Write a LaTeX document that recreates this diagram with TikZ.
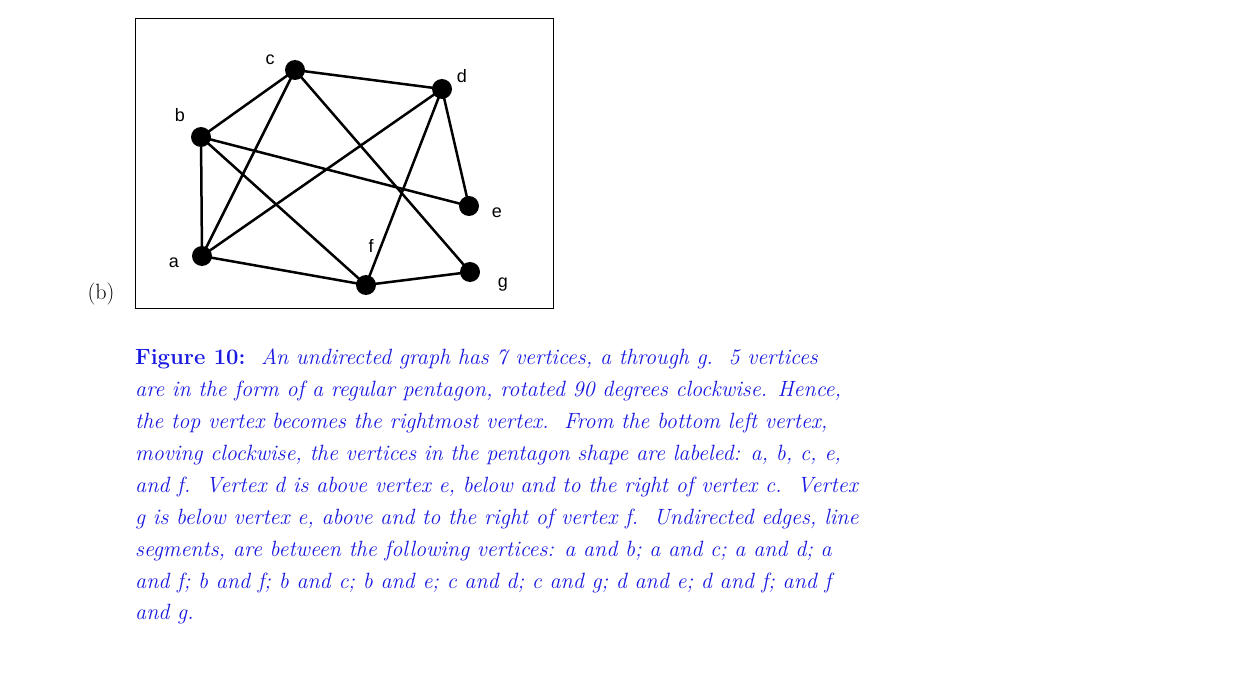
\documentclass[tikz,border=0pt]{standalone}
\usepackage{fontspec}
\newfontfamily\lsans{Liberation Sans}
\definecolor{capblue}{RGB}{25,25,225}
\begin{document}
\begin{tikzpicture}[x=1pt,y=-1pt,
  vtx/.style={circle,fill=black,inner sep=0pt,minimum size=20pt},
  lbl/.style={font=\lsans\fontsize{18}{20}\selectfont},
  edge/.style={line width=2.5pt},
  capline/.style={anchor=base west,inner sep=0pt,text=capblue,font=\fontsize{22.1}{24}\selectfont\itshape}]
\useasboundingbox (0,0) rectangle (1235,674);
\draw[line width=0.8pt] (135,18) rectangle (553,308);
\node (a) [vtx] at (202,256) {};
\node (b) [vtx] at (201,137) {};
\node (c) [vtx] at (295,70) {};
\node (d) [vtx] at (442,89) {};
\node (e) [vtx] at (469,206) {};
\node (f) [vtx] at (366,285) {};
\node (g) [vtx] at (470,272) {};
\foreach \u/\v in {a/b,a/c,a/d,a/f,b/f,b/c,b/e,c/d,c/g,d/e,d/f,f/g}
  \draw[edge] (\u.center) -- (\v.center);
\node[lbl] (la) at (174,263) {a};
\node[lbl] (lb) at (180,115) {b};
\node[lbl] (lc) at (270,60) {c};
\node[lbl] (ld) at (462,76) {d};
\node[lbl] (le) at (497,213) {e};
\node[lbl] (lf) at (371,246) {f};
\node[lbl] (lg) at (503,285) {g};
\node[font=\fontsize{22.1}{24}\selectfont] (lab) at (101,294) {(b)};
\node[capline] (l1) at (135,364) {{\upshape\bfseries Figure 10:}\ \ An undirected graph has 7 vertices, a through g.\ \ 5 vertices};
\node[capline] (l2) at (135,396) {are in the form of a regular pentagon, rotated 90 degrees clockwise. Hence,};
\node[capline] (l3) at (135,428) {the top vertex becomes the rightmost vertex.\ \ From the bottom left vertex,};
\node[capline] (l4) at (135,460) {moving clockwise, the vertices in the pentagon shape are labeled: a, b, c, e,};
\node[capline] (l5) at (135,492) {and f.\ \ Vertex d is above vertex e, below and to the right of vertex c.\ \ Vertex};
\node[capline] (l6) at (135,524) {g is below vertex e, above and to the right of vertex f.\ \ Undirected edges, line};
\node[capline] (l7) at (135,556) {segments, are between the following vertices: a and b; a and c; a and d; a};
\node[capline] (l8) at (135,588) {and f; b and f; b and c; b and e; c and d; c and g; d and e; d and f; and f};
\node[capline] (l9) at (135,619) {and g.};
\end{tikzpicture}
\end{document}
